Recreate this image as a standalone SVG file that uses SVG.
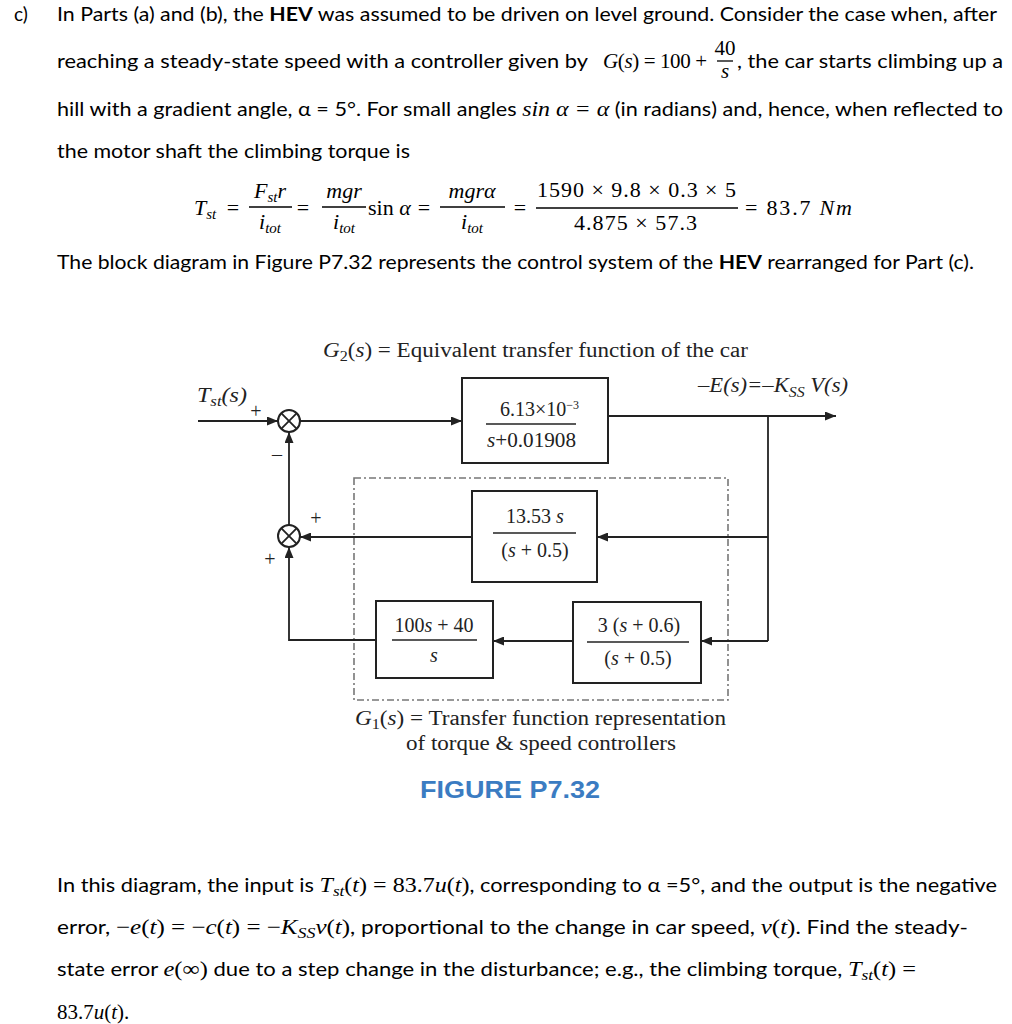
<svg xmlns="http://www.w3.org/2000/svg" width="1012" height="1024" viewBox="0 0 1012 1024">
<style>
.p{font-family:Lato,"Open Sans",sans-serif;font-size:19px;fill:#000}
.b{font-weight:bold}
.m{font-family:"Liberation Serif","DejaVu Serif",serif;font-size:21px;fill:#000}
.mt{font-family:"Liberation Serif","DejaVu Serif",serif;font-size:21px}
.e{font-family:"Liberation Serif","DejaVu Serif",serif;font-size:22px;fill:#000}
.i{font-style:italic}
.sub{font-size:15px}
.d{font-family:"Liberation Serif","Times New Roman",serif;font-size:20px;fill:#222}
.lbl{font-family:"Liberation Serif","Times New Roman",serif;font-size:20px;fill:#222}
.ln{stroke:#222;stroke-width:1.8;fill:none}
.box{stroke:#222;stroke-width:2;fill:#fff}
.bar{stroke:#222;stroke-width:1.6}
.ebar{stroke:#000;stroke-width:1.3}
.sum{stroke:#222;stroke-width:2;fill:#fff}
.fig{font-family:"Liberation Sans",Arial,sans-serif;font-weight:bold;font-size:24px;fill:#3b7cc2}
</style>
<defs>
<marker id="ar" markerWidth="11" markerHeight="9" refX="11" refY="4.5" orient="auto" markerUnits="userSpaceOnUse">
<path d="M0,0 L11,4.5 L0,9 z" fill="#222"/>
</marker>
</defs>
<rect width="1012" height="1024" fill="#fff"/>

<!-- Paragraph text -->
<text class="p" x="14" y="21">c)</text>
<text class="p" x="57" y="21" textLength="940" lengthAdjust="spacingAndGlyphs">In Parts (a) and (b), the <tspan class="b">HEV</tspan> was assumed to be driven on level ground. Consider the case when, after</text>

<text class="p" x="57" y="68" textLength="531" lengthAdjust="spacingAndGlyphs">reaching a steady-state speed with a controller given by</text>
<text class="m" x="603" y="68" textLength="104" lengthAdjust="spacing"><tspan class="i">G</tspan>(<tspan class="i">s</tspan>) = 100 +</text>
<text class="m" x="725" y="55" font-size="12" text-anchor="middle">40</text>
<line class="ebar" x1="717" y1="61" x2="733" y2="61"/>
<text class="m i" x="725" y="78" font-size="13" text-anchor="middle">s</text>
<text class="p" x="737" y="68" textLength="266" lengthAdjust="spacingAndGlyphs">, the car starts climbing up a</text>

<text class="p" x="57" y="116" textLength="946" lengthAdjust="spacingAndGlyphs">hill with a gradient angle, α = 5°. For small angles <tspan class="mt i">sin α = α</tspan> (in radians) and, hence, when reflected to</text>

<text class="p" x="57" y="158" textLength="353" lengthAdjust="spacingAndGlyphs">the motor shaft the climbing torque is</text>

<!-- Equation -->
<text class="e i" x="194" y="215">T<tspan class="sub" dy="4">st</tspan></text>
<text class="e" x="233" y="215" text-anchor="middle">=</text>
<text class="e i" x="270" y="198" text-anchor="middle">F<tspan class="sub" dy="4">st</tspan><tspan dy="-4">r</tspan></text>
<line class="ebar" x1="249" y1="207" x2="292" y2="207"/>
<text class="e i" x="270" y="229" text-anchor="middle">i<tspan class="sub" dy="4">tot</tspan></text>
<text class="e" x="303" y="215" text-anchor="middle">=</text>
<text class="e i" x="344" y="198" text-anchor="middle">mgr</text>
<line class="ebar" x1="322" y1="207" x2="366" y2="207"/>
<text class="e i" x="344" y="229" text-anchor="middle">i<tspan class="sub" dy="4">tot</tspan></text>
<text class="e" x="368" y="215">sin <tspan class="i">α</tspan></text>
<text class="e" x="424" y="215" text-anchor="middle">=</text>
<text class="e i" x="472" y="198" text-anchor="middle">mgrα</text>
<line class="ebar" x1="440" y1="207" x2="505" y2="207"/>
<text class="e i" x="472" y="229" text-anchor="middle">i<tspan class="sub" dy="4">tot</tspan></text>
<text class="e" x="520" y="215" text-anchor="middle">=</text>
<text class="e" x="537" y="197" textLength="199" lengthAdjust="spacing">1590 × 9.8 × 0.3 × 5</text>
<line class="ebar" x1="536" y1="208" x2="738" y2="208"/>
<text class="e" x="574" y="230" textLength="123" lengthAdjust="spacing">4.875 × 57.3</text>
<text class="e" x="745" y="215" textLength="107" lengthAdjust="spacing">= 83.7 <tspan class="i">Nm</tspan></text>

<text class="p" x="57" y="269" textLength="917" lengthAdjust="spacingAndGlyphs">The block diagram in Figure P7.32 represents the control system of the <tspan class="b">HEV</tspan> rearranged for Part (c).</text>

<!-- Diagram labels -->
<text class="lbl" x="323" y="357" textLength="425" lengthAdjust="spacingAndGlyphs"><tspan class="i">G</tspan><tspan font-size="14" dy="4">2</tspan><tspan dy="-4">(</tspan><tspan class="i">s</tspan>) = Equivalent transfer function of the car</text>
<text class="lbl i" x="197" y="402" textLength="50" lengthAdjust="spacingAndGlyphs">T<tspan font-size="14" dy="4">st</tspan><tspan dy="-4">(s)</tspan></text>
<text class="lbl i" x="698" y="392" textLength="150" lengthAdjust="spacingAndGlyphs">–E(s)=–K<tspan font-size="14" dy="5">SS</tspan><tspan dy="-5"> V(s)</tspan></text>

<!-- Signs -->
<text class="lbl" x="256" y="418" text-anchor="middle">+</text>
<text class="lbl" x="277" y="461" text-anchor="middle">–</text>
<text class="lbl" x="316" y="525" text-anchor="middle">+</text>
<text class="lbl" x="270" y="566" text-anchor="middle">+</text>

<!-- Dash-dot G1 region -->
<rect x="354" y="478" width="374" height="222" fill="none" stroke="#777" stroke-width="1.6" stroke-dasharray="7 3 2 3"/>

<!-- Connectors -->
<g id="connectors">
<path class="ln" d="M198,421 H278" marker-end="url(#ar)"/>
<path class="ln" d="M300,421 H462" marker-end="url(#ar)"/>
<path class="ln" d="M608,416 H836" marker-end="url(#ar)"/>
<path class="ln" d="M768,416 V641"/>
<path class="ln" d="M768,537 H597" marker-end="url(#ar)"/>
<path class="ln" d="M472,537 H300" marker-end="url(#ar)"/>
<path class="ln" d="M768,641 H701" marker-end="url(#ar)"/>
<path class="ln" d="M573,641 H493" marker-end="url(#ar)"/>
<path class="ln" d="M376,640 H289 V547" marker-end="url(#ar)"/>
<path class="ln" d="M289,525 V432" marker-end="url(#ar)"/>
</g>

<!-- Summing junctions -->
<g id="sum1">
<circle class="sum" cx="289" cy="421" r="11"/>
<path class="ln" d="M281.2,413.2 L296.8,428.8 M296.8,413.2 L281.2,428.8"/>
</g>
<g id="sum2">
<circle class="sum" cx="289" cy="536" r="11"/>
<path class="ln" d="M281.2,528.2 L296.8,543.8 M296.8,528.2 L281.2,543.8"/>
</g>

<!-- Blocks -->
<g id="block-car">
<rect class="box" x="462" y="378" width="146" height="85"/>
<text class="d" x="500" y="416" font-size="18">6.13×10<tspan font-size="12" dy="-7">−3</tspan></text>
<line class="bar" x1="486" y1="424" x2="576" y2="424"/>
<text class="d" x="487" y="447" textLength="89" lengthAdjust="spacingAndGlyphs"><tspan class="i">s</tspan>+0.01908</text>
</g>
<g id="block-torque">
<rect class="box" x="472" y="491" width="125" height="91"/>
<text class="d" x="535" y="523" text-anchor="middle">13.53 <tspan class="i">s</tspan></text>
<line class="bar" x1="493" y1="533" x2="576" y2="533"/>
<text class="d" x="535" y="557" text-anchor="middle">(<tspan class="i">s</tspan> + 0.5)</text>
</g>
<g id="block-pi">
<rect class="box" x="376" y="601" width="117" height="77"/>
<text class="d" x="434" y="632" text-anchor="middle">100<tspan class="i">s</tspan> + 40</text>
<line class="bar" x1="392" y1="640" x2="477" y2="640"/>
<text class="d i" x="434" y="662" text-anchor="middle">s</text>
</g>
<g id="block-speed">
<rect class="box" x="573" y="602" width="128" height="81"/>
<text class="d" x="639" y="632" text-anchor="middle">3 (<tspan class="i">s</tspan> + 0.6)</text>
<line class="bar" x1="587" y1="642" x2="689" y2="642"/>
<text class="d" x="638" y="665" text-anchor="middle">(<tspan class="i">s</tspan> + 0.5)</text>
</g>

<text class="lbl" x="355" y="725" textLength="371" lengthAdjust="spacingAndGlyphs"><tspan class="i">G</tspan><tspan font-size="14" dy="4">1</tspan><tspan dy="-4">(</tspan><tspan class="i">s</tspan>) = Transfer function representation</text>
<text class="lbl" x="406" y="750" textLength="270" lengthAdjust="spacingAndGlyphs">of torque &amp; speed controllers</text>
<text class="fig" x="420" y="798" textLength="180" lengthAdjust="spacingAndGlyphs">FIGURE P7.32</text>

<!-- Bottom paragraph -->
<text class="p" x="57" y="892" textLength="940" lengthAdjust="spacingAndGlyphs">In this diagram, the input is <tspan class="mt"><tspan class="i">T</tspan><tspan class="i sub" dy="4">st</tspan><tspan dy="-4">(</tspan><tspan class="i">t</tspan>) = 83.7<tspan class="i">u</tspan>(<tspan class="i">t</tspan>)</tspan>, corresponding to α =5°, and the output is the negative</text>

<text class="p" x="57" y="934" textLength="911" lengthAdjust="spacingAndGlyphs">error, <tspan class="mt">−<tspan class="i">e</tspan>(<tspan class="i">t</tspan>) = −<tspan class="i">c</tspan>(<tspan class="i">t</tspan>) = −<tspan class="i">K</tspan><tspan class="i sub" dy="4">SS</tspan><tspan class="i" dy="-4">v</tspan>(<tspan class="i">t</tspan>)</tspan>, proportional to the change in car speed, <tspan class="mt"><tspan class="i">v</tspan>(<tspan class="i">t</tspan>)</tspan>. Find the steady-</text>

<text class="p" x="57" y="976" textLength="859" lengthAdjust="spacingAndGlyphs">state error <tspan class="mt"><tspan class="i">e</tspan>(∞)</tspan> due to a step change in the disturbance; e.g., the climbing torque, <tspan class="mt"><tspan class="i">T</tspan><tspan class="i sub" dy="4">st</tspan><tspan dy="-4">(</tspan><tspan class="i">t</tspan>) =</tspan></text>

<text class="m" x="57" y="1019">83.7<tspan class="i">u</tspan>(<tspan class="i">t</tspan>).</text>
</svg>
